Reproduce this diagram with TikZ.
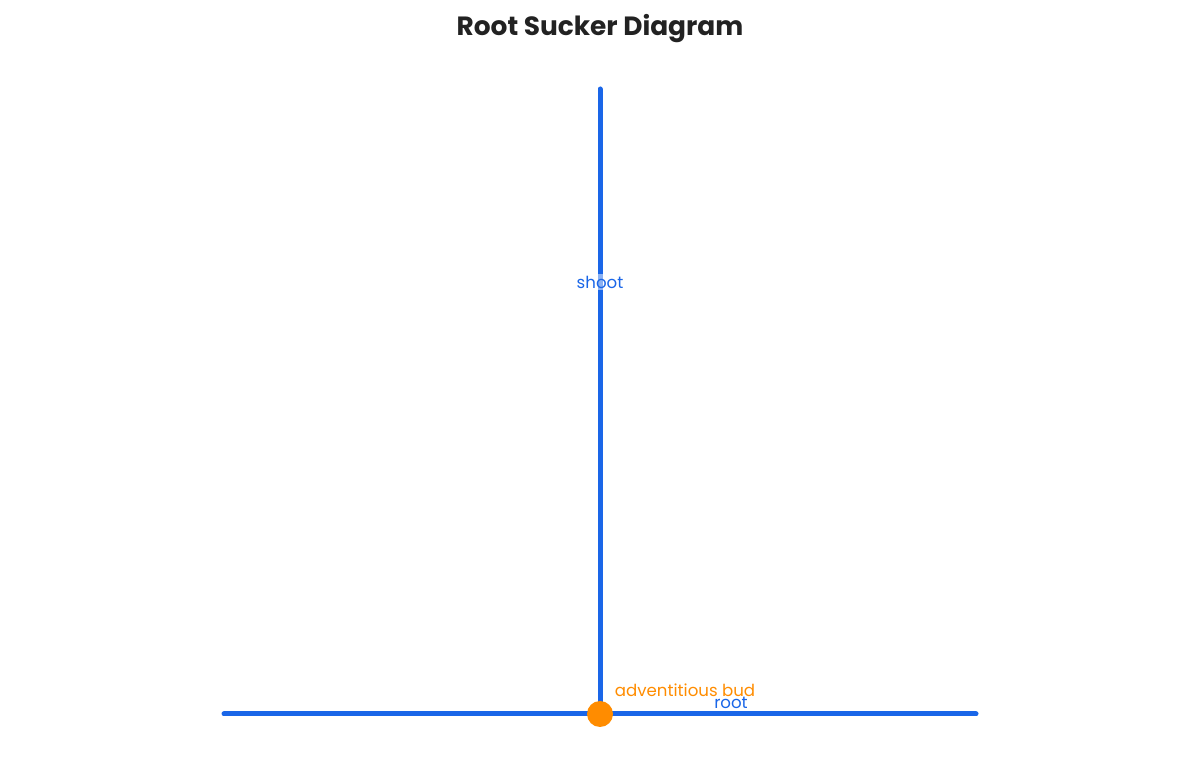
\documentclass[tikz,border=0pt]{standalone}
\usepackage{fontspec}
\setmainfont{Poppins}
\definecolor{stemblue}{HTML}{1A66E8}
\definecolor{budorange}{HTML}{FF8C00}
\definecolor{titlegray}{HTML}{222222}
\begin{document}
\begin{tikzpicture}[x=0.5pt,y=-0.5pt,
  stem/.style={draw=stemblue,line width=2.5pt,line cap=round},
  lbl/.style={font=\fontsize{8.3}{10}\selectfont,inner sep=1pt,fill=white,fill opacity=0.5,text opacity=1},
  titlestyle/.style={font=\fontsize{13.2}{16}\selectfont\bfseries,text=titlegray}]
\useasboundingbox (0,0) rectangle (1200,763);
\node[titlestyle] (title) at (600,29) {Root Sucker Diagram};
\coordinate (top) at (600,89);
\coordinate (base) at (600,714);
\coordinate (rl) at (224,714);
\coordinate (rr) at (976,714);
\draw[stem] (rl) -- (rr);
\draw[stem] (top) -- (base);
\fill[budorange] (base) circle (13);
\node[lbl,text=stemblue] (shoot) at (600,282) {shoot};
\node[lbl,text=stemblue] (root) at (731,703) {root};
\node[lbl,text=budorange,fill=none] (bud) at (685,690) {adventitious bud};
\end{tikzpicture}
\end{document}
